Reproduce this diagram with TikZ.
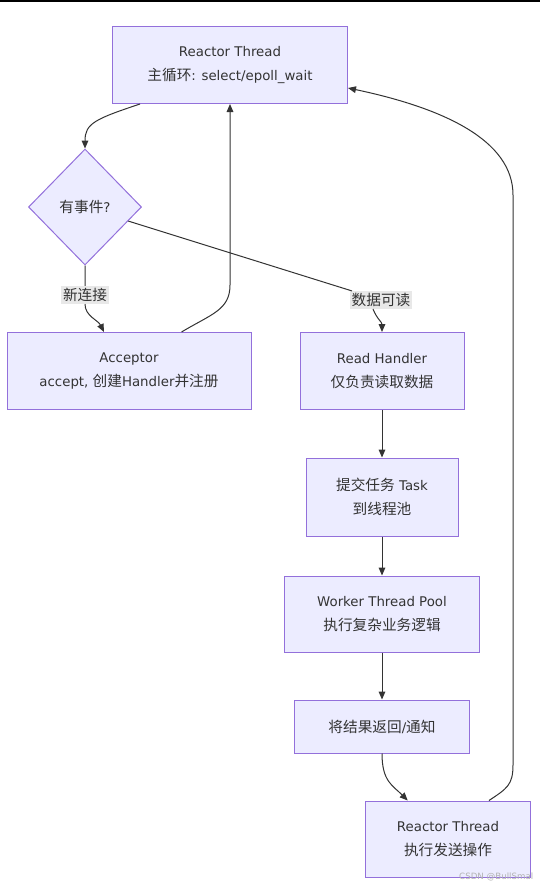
\documentclass[tikz,border=0pt]{standalone}
\usepackage{fontspec}
\setmainfont{DejaVu Sans}
\newfontfamily\zhfont{Noto Sans CJK SC}
\newcommand{\zh}[1]{{\zhfont\fontsize{11pt}{18pt}\selectfont #1}}
\usetikzlibrary{shapes.geometric,arrows.meta}
\definecolor{nodefill}{HTML}{ECECFF}
\definecolor{nodeline}{HTML}{9370DB}
\definecolor{edgeline}{HTML}{333333}
\definecolor{labelfill}{HTML}{E8E8E8}

\begin{document}
\begin{tikzpicture}[x=0.75pt,y=-0.75pt]
    \tikzstyle{box} = [draw=nodeline, fill=nodefill, shape=rectangle, line width=0.75pt, align=center, text=edgeline, font=\fontsize{10pt}{18pt}\selectfont, minimum height=57.75pt, inner sep=0pt]
    \tikzstyle{decision} = [draw=nodeline, fill=nodefill, shape=diamond, line width=0.75pt, text=edgeline, font=\fontsize{10pt}{18pt}\selectfont, minimum width=84.75pt, minimum height=87pt, inner sep=0pt]
    \tikzstyle{edgelabel} = [fill=labelfill, text=edgeline, inner sep=1.5pt]

    \useasboundingbox (0,0) rectangle (540,885);
    \draw [line width=1.5pt] (0,0.75) -- (540,0.75);

    \node [box, minimum width=176.25pt] at (230,65) (reactor) {Reactor Thread\\\zh{主循环}: select/epoll\_wait};
    \node [decision] at (85,207) (event) {\zh{有事件}?};
    \node [box, minimum width=183pt] at (129,371) (acceptor) {Acceptor\\accept, \zh{创建}Handler\zh{并注册}};
    \node [box, minimum width=123pt] at (382,371) (read) {Read Handler\\\zh{仅负责读取数据}};
    \node [box, minimum width=114pt, minimum height=58.5pt] at (382,497) (task) {\zh{提交任务} Task\\\zh{到线程池}};
    \node [box, minimum width=146.25pt, minimum height=57pt] at (382,614) (worker) {Worker Thread Pool\\\zh{执行复杂业务逻辑}};
    \node [box, minimum width=131.25pt, minimum height=39.75pt] at (382,726.5) (result) {\zh{将结果返回}/\zh{通知}};
    \node [box, minimum width=123.75pt, minimum height=57pt] at (448,839) (send) {Reactor Thread\\\zh{执行发送操作}};

    \node [edgelabel] at (85,295) (newconn) {\zh{新连接}};
    \node [edgelabel] at (381,300) (readable) {\zh{数据可读}};

    \coordinate (accturn) at (230,285);
    \coordinate (loopbot) at (513,765);
    \coordinate (looptop) at (513,195);

    \begin{scope}[line width=0.75pt, draw=edgeline, >={Triangle[length=6pt,width=5pt]}]
    \draw [->] ([xshift=21pt]reactor.south west) .. controls +(-45,15) and +(0,-25) .. (event.north);
    \draw [->] (event.south) -- (newconn.north) (newconn.south) .. controls +(0,12) and +(-6,-12) .. ([xshift=-18.75pt]acceptor.north);
    \draw [->] (event.-18) -- (readable) ([xshift=-6pt]readable.south) .. controls +(4,10) and +(0,-10) .. (read.north);
    \draw [->] ([xshift=39.4pt]acceptor.north) .. controls +(30,-18) and +(0,25) .. (accturn) -- (reactor.south);
    \draw [->] (read) -- (task);
    \draw [->] (task) -- (worker);
    \draw [->] (worker) -- (result);
    \draw [->] (result.south) .. controls +(0,28) and +(-15,-15) .. ([xshift=-30.2pt]send.north);
    \draw [->] ([xshift=30.75pt]send.north) .. controls +(18,-12) and +(0,20) .. (loopbot) -- (looptop) .. controls +(0,-55) and +(95,20) .. ([yshift=-17.25pt]reactor.east);
    \end{scope}

    \node [text=black!30, font=\fontsize{6.5pt}{7pt}\selectfont, anchor=east] at (538,877) (mark) {CSDN @BullSmal};
\end{tikzpicture}
\end{document}
